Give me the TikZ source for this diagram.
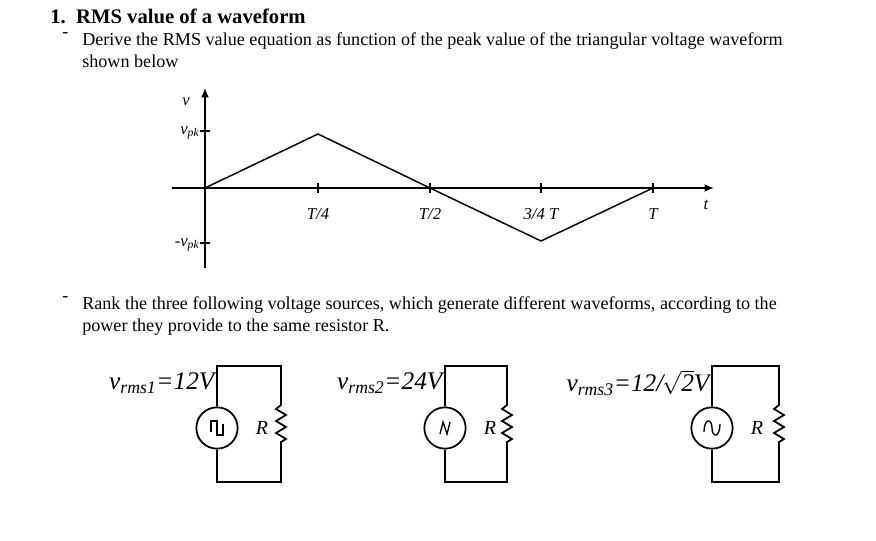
\documentclass[tikz,border=0pt]{standalone}
\usepackage{fontspec}
\setmainfont{Liberation Serif}
\usetikzlibrary{arrows.meta}
\newcommand{\sqrtv}[1]{$\sqrt{\mbox{\itshape #1}}$}
\begin{document}
\begin{tikzpicture}[x=0.75pt,y=-0.75pt,
  wire/.style={line width=1.3pt},
  ax/.style={line width=1.3pt,-{Latex[length=7pt,width=6pt]}},
  tk/.style={font=\itshape\fontsize{12.5}{14}\selectfont},
  eq/.style={font=\itshape\fontsize{19}{20}\selectfont,anchor=east,inner sep=1pt},
  body/.style={anchor=north west,align=left,font=\fontsize{13.6}{17}\selectfont,inner sep=0}]
\useasboundingbox (0,0) rectangle (876,541);
\node[anchor=west,font=\bfseries\fontsize{15.5}{17}\selectfont,inner sep=0] (title) at (50,16) {1.\ \ RMS value of a waveform};
\node[anchor=north west,inner sep=0,font=\fontsize{13.6}{17}\selectfont] (d1) at (62,32) {-};
\node[body] (t1) at (82,32) {Derive the RMS value equation as function of the peak value of the triangular voltage waveform\\shown below};
\node[anchor=north west,inner sep=0,font=\fontsize{13.6}{17}\selectfont] (d2) at (62,296) {-};
\node[body] (t2) at (82,296) {Rank the three following voltage sources, which generate different waveforms, according to the\\power they provide to the same resistor R.};
% graph
\coordinate (o) at (205,188);
\coordinate (xl) at (172,188);
\coordinate (xr) at (714,188);
\coordinate (yb) at (205,268);
\coordinate (yt) at (205,88);
\draw[ax] (xl) -- (xr);
\draw[ax] (yb) -- (yt);
\foreach \x/\l in {318/{T/4},430/{T/2},541/{3/4 T},653/{T}}{
  \draw[line width=2pt] (\x,183) -- (\x,193);
  \node[tk] (lab\x) at (\x,214) {\l};
}
\draw[line width=2pt] (200,131) -- (210,131);
\draw[line width=2pt] (200,243) -- (210,243);
\node[tk,anchor=east,inner sep=1pt] (vpk) at (201,133) {v\textsubscript{pk}};
\node[tk,anchor=east,inner sep=1pt] (mvpk) at (201,245) {-v\textsubscript{pk}};
\node[tk] (vv) at (186,102) {v};
\node[tk] (tt) at (706,205) {t};
\coordinate (p1) at (318,134);
\coordinate (p2) at (430,188);
\coordinate (p3) at (541,241);
\coordinate (p4) at (653,188);
\draw[line width=1.1pt] (o) -- (p1) -- (p2) -- (p3) -- (p4);
% circuits
\foreach \L/\Rr/\n/\lab in {217/281/1/{v\textsubscript{rms1}=12V},445/507/2/{v\textsubscript{rms2}=24V},712/779/3/{v\textsubscript{rms3}=12/\kern-1pt\sqrtv{2}V}}{
  \node[draw,circle,minimum size=31,inner sep=0,line width=1.3pt] (s\n) at (\L,428) {};
  \coordinate (tl\n) at (\L,366); \coordinate (tr\n) at (\Rr,366);
  \coordinate (bl\n) at (\L,482); \coordinate (br\n) at (\Rr,482);
  \coordinate (ra\n) at (\Rr,405); \coordinate (rb\n) at (\Rr,448);
  \draw[wire] (s\n.north) -- (tl\n) -- (tr\n) -- (ra\n) -- ++(-5,4) -- ++(10,6) -- ++(-10,6) -- ++(10,6) -- ++(-10,6) -- ++(10,6) -- ++(-5,3) -- (rb\n) -- (br\n) -- (bl\n) -- (s\n.south);
  \node[tk,font=\itshape\fontsize{15}{16}\selectfont] (R\n) at (\L+45,428) {R};
  \node[eq] (e\n) at (\L-1,383) {\lab};
}
\draw[line width=1pt] (211,432) -- (211,421) -- (217,421) -- (217,435) -- (223,435) -- (223,424);
\draw[line width=1pt] (440,434) -- (443,422) -- (447,434) -- (450,422);
\draw[line width=1pt] (704,432) .. controls (704,418) and (712,418) .. (712,428) .. controls (712,438) and (720,438) .. (720,424);
\end{tikzpicture}
\end{document}
